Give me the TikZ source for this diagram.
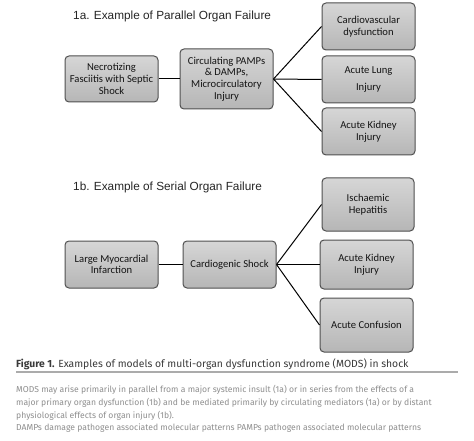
\documentclass[tikz,border=0pt]{standalone}
\usepackage{fontspec}
\setmainfont{Liberation Sans}
\newfontfamily\boxfont{Carlito}
\newfontfamily\capfont{Fira Sans}
\usetikzlibrary{shadings}
\definecolor{boxedge}{HTML}{505050}
\definecolor{boxtop}{HTML}{D6D6D6}
\definecolor{boxbot}{HTML}{B6B6B6}
\definecolor{captxt}{HTML}{3A3A3A}
\definecolor{partxt}{HTML}{8E8E8E}
\definecolor{rulec}{HTML}{ABABAB}
\tikzset{
  organbox/.style={draw=boxedge, line width=1pt, rounded corners=4pt,
    top color=boxtop, bottom color=boxbot, align=center, inner sep=0pt,
    font=\boxfont\fontsize{10.6}{11.7}\selectfont, text=black!92},
  link/.style={line width=1pt, black},
  heading/.style={anchor=west, inner sep=0pt, font=\fontsize{11.8}{13}\selectfont, text=black!85},
  capline/.style={anchor=west, inner sep=0pt, font=\capfont\fontsize{10.35}{12}\selectfont, text=captxt},
  parline/.style={anchor=west, inner sep=0pt, font=\capfont\fontsize{8.6}{10}\selectfont, text=partxt}
}
\begin{document}
\begin{tikzpicture}[x=1pt,y=-1pt]
\useasboundingbox[fill=white] (0,0) rectangle (474,441);
% Part 1a
\node[heading] (t1) at (73,16) {1a. Example of Parallel Organ Failure};
\node[organbox, minimum width=93pt, minimum height=46pt] (nec) at (111.5,79) {Necrotizing\\Fasciitis with Septic\\Shock};
\node[organbox, minimum width=93pt, minimum height=60pt] (circ) at (226.5,79) {Circulating PAMPs\\\& DAMPs,\\Microcirculatory\\Injury};
\node[organbox, minimum width=93pt, minimum height=47pt] (cardio) at (368.5,26.5) {Cardiovascular\\dysfunction};
\node[organbox, minimum width=93pt, minimum height=47pt] (lung) at (368.5,79.5) {Acute Lung\\[4.8pt]Injury};
\node[organbox, minimum width=93pt, minimum height=47pt] (kid1) at (368.5,131.5) {Acute Kidney\\Injury};
\draw[link] (nec.east) -- (circ.west);
\draw[link] (circ.east) -- (cardio.west);
\draw[link] (circ.east) -- (lung.west);
\draw[link] (circ.east) -- (kid1.west);
% Part 1b
\node[heading] (t2) at (73,187) {1b. Example of Serial Organ Failure};
\node[organbox, minimum width=93pt, minimum height=47pt] (myo) at (111.5,264.5) {Large Myocardial\\Infarction};
\node[organbox, minimum width=93pt, minimum height=47pt] (cshock) at (229.5,264.5) {Cardiogenic Shock};
\node[organbox, minimum width=92pt, minimum height=53pt] (isch) at (368,204.5) {Ischaemic\\Hepatitis};
\node[organbox, minimum width=93pt, minimum height=49pt] (kid2) at (366.5,264.5) {Acute Kidney\\Injury};
\node[organbox, minimum width=93pt, minimum height=54pt] (conf) at (366.5,325) {Acute Confusion};
\draw[link] (myo.east) -- (cshock.west);
\draw[link] (cshock.east) -- (isch.west);
\draw[link] (cshock.east) -- (kid2.west);
\draw[link] (cshock.east) -- (conf.west);
% Caption
\node[capline] (cap) at (16,364) {\textbf{Figure 1.} Examples of models of multi-organ dysfunction syndrome (MODS) in shock};
\coordinate (rl) at (16,372);
\coordinate (rr) at (458,372);
\draw[rulec, line width=1.4pt] (rl) -- (rr);
\node[parline] (p1) at (16,390) {MODS may arise primarily in parallel from a major systemic insult (1a) or in series from the effects of a};
\node[parline] (p2) at (16,403) {major primary organ dysfunction (1b) and be mediated primarily by circulating mediators (1a) or by distant};
\node[parline] (p3) at (16,416) {physiological effects of organ injury (1b).};
\node[parline] (p4) at (16,428.5) {DAMPs damage pathogen associated molecular patterns PAMPs pathogen associated molecular patterns};
\end{tikzpicture}
\end{document}
